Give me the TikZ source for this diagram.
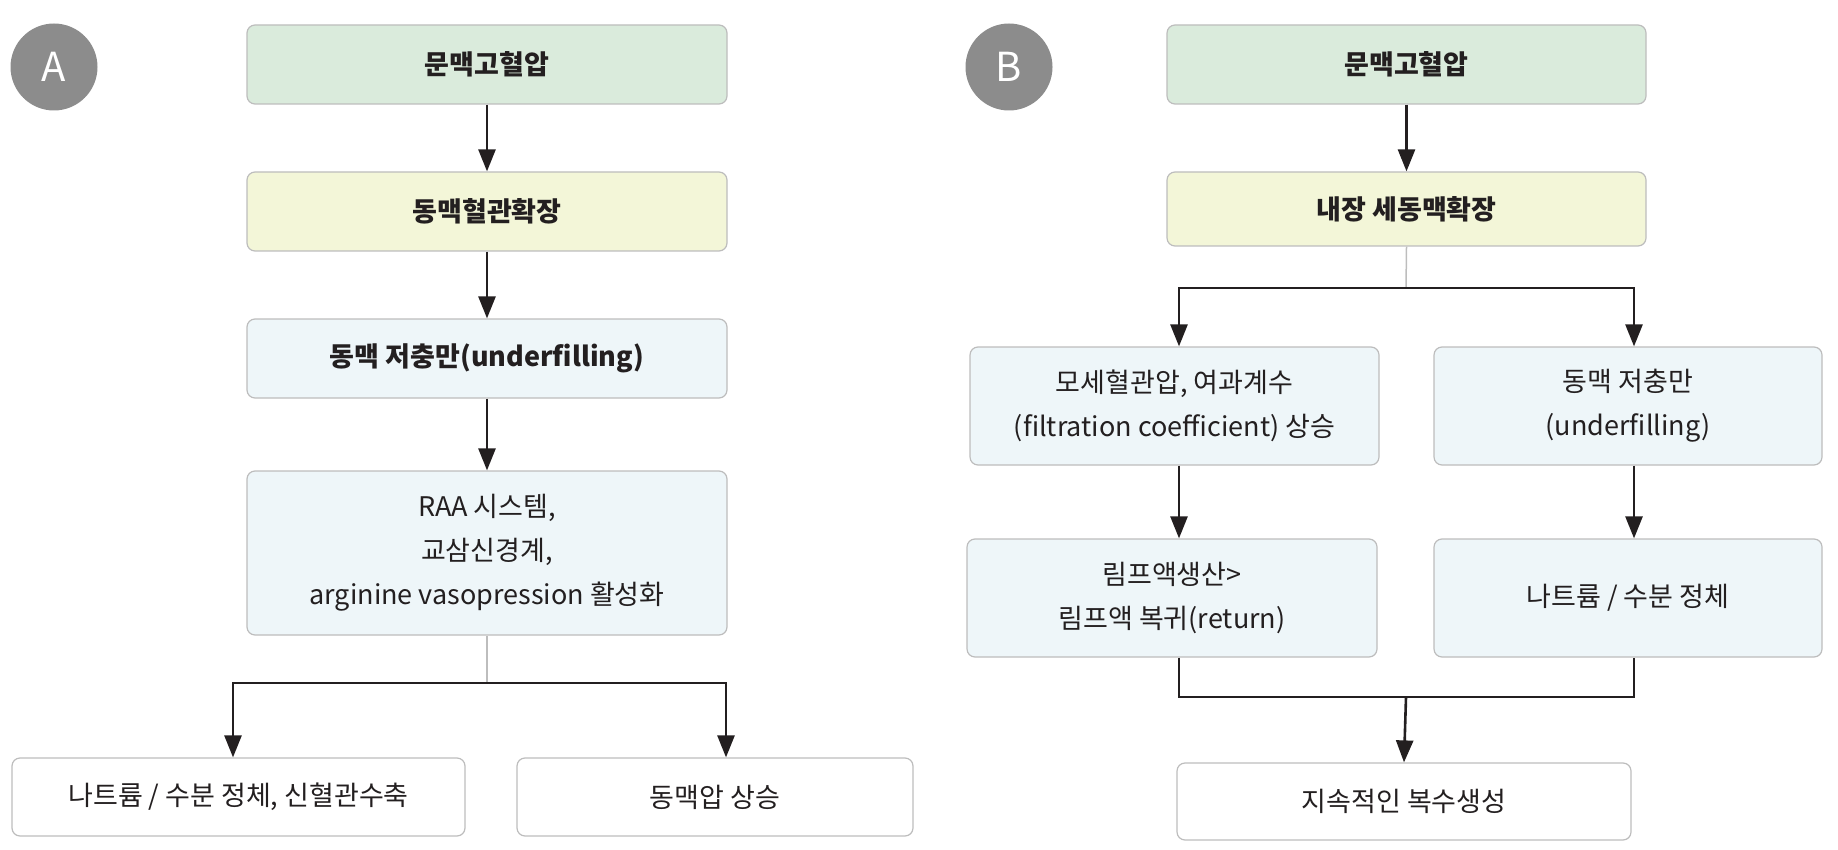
\documentclass[tikz,border=0pt]{standalone}
\usepackage{fontspec}
\setmainfont{Noto Sans CJK KR}
\usetikzlibrary{arrows.meta}
\definecolor{cg}{HTML}{DAEBDC}
\definecolor{cy}{HTML}{F3F6D8}
\definecolor{cb}{HTML}{EEF6F9}
\definecolor{bd}{HTML}{BDBDBD}
\definecolor{ln}{HTML}{231F20}
\definecolor{circ}{HTML}{8C8C8C}
\begin{document}
\begin{tikzpicture}[x=1pt,y=-1pt,
  box/.style={draw=bd,line width=1.2pt,rounded corners=8pt,align=center,inner sep=0pt,font=\fontsize{27}{44}\selectfont,text=ln},
  bb/.style={box,font=\fontsize{27}{44}\selectfont\bfseries},
  arr/.style={draw=ln,line width=2.6pt,-{Triangle[length=22pt,width=17pt]}},
  stem/.style={draw=bd,line width=1.5pt},
  lbl/.style={circle,fill=circ,minimum size=87pt,inner sep=0pt,text=white,font=\fontsize{40}{40}\selectfont}]
\useasboundingbox (0,0) rectangle (1838,850);
\newcommand{\bx}[5]{\node[#1,minimum width={#4-#2},minimum height={#5-#3}] at ({(#2+#4)/2},{(#3+#5)/2})}
% Panel A
\node[lbl] (LA) at (54,67) {A};
\bx{bb,fill=cg}{247}{25}{727}{104} (a1) {문맥고혈압};
\bx{bb,fill=cy}{247}{172}{727}{251} (a2) {동맥혈관확장};
\bx{bb,fill=cb}{247}{319}{727}{398} (a3) {동맥 저충만(underfilling)};
\bx{box,fill=cb}{247}{471}{727}{635} (a4) {RAA 시스템,\\교삼신경계,\\arginine vasopression 활성화};
\bx{box,fill=white}{12}{758}{465}{836} (a5) {나트륨 / 수분 정체, 신혈관수축};
\bx{box,fill=white}{517}{758}{913}{836} (a6) {동맥압 상승};
\draw[arr] (a1) -- (a2);
\draw[arr] (a2) -- (a3);
\draw[arr] (a3) -- (a4);
\coordinate (sa) at (487,683);
\draw[stem] (a4.south) -- (sa);
\draw[arr] (sa) -| (a5.north -| 233,0);
\draw[arr] (sa) -| (a6.north -| 726,0);
% Panel B
\node[lbl] (LB) at (1009,67) {B};
\bx{bb,fill=cg}{1167}{25}{1646}{104} (b1) {문맥고혈압};
\bx{bb,fill=cy}{1167}{172}{1646}{246} (b2) {내장 세동맥확장};
\bx{box,fill=cb}{970}{347}{1379}{465} (b3) {모세혈관압, 여과계수\\(filtration coefficient) 상승};
\bx{box,fill=cb}{1434}{347}{1822}{465} (b4) {동맥 저충만\\(underfilling)};
\bx{box,fill=cb}{967}{539}{1377}{657} (b5) {림프액생산>\\림프액 복귀(return)};
\bx{box,fill=cb}{1434}{539}{1822}{657} (b6) {나트륨 / 수분 정체};
\bx{box,fill=white}{1177}{763}{1631}{840} (b7) {지속적인 복수생성};
\draw[arr] (b1) -- (b2);
\coordinate (sb) at (1406,288);
\draw[stem] (b2.south) -- (sb);
\draw[arr] (sb) -| (b3.north -| 1179,0);
\draw[arr] (sb) -| (b4.north -| 1634,0);
\draw[arr] (b3.south -| 1179,0) -- (b5.north -| 1179,0);
\draw[arr] (b4.south -| 1634,0) -- (b6.north -| 1634,0);
\coordinate (jb) at (1406,697);
\draw[draw=ln,line width=2.6pt] (b5.south -| 1179,0) |- (jb) -| (b6.south -| 1634,0);
\draw[arr] (jb) -- (b7.north);
\end{tikzpicture}
\end{document}
